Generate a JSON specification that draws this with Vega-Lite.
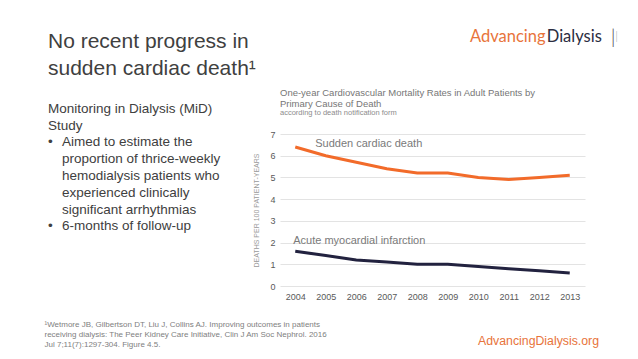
{
  "$schema": "https://vega.github.io/schema/vega-lite/v6.json",
  "autosize": {"type": "none"},
  "padding": {"left": 48, "top": 134, "right": 53, "bottom": 73},
  "params": [{"name": "width", "value": 537}, {"name": "height", "value": 152}],
  "background": "white",
  "bounds": "flush",
  "spacing": 32,
  "config": {
    "view": {"stroke": null},
    "font": "Liberation Sans",
    "axisX": {"labelAngle": 0, "ticks": false, "domain": false, "labelFontSize": 9, "labelColor": "#595959", "labelPadding": 6, "grid": false},
    "axisY": {"tickCount": 7, "titleFontSize": 7, "titleFontWeight": "normal", "titleColor": "#9a9a9a", "titlePadding": 10, "labelFontSize": 9, "labelColor": "#595959", "labelPadding": 5, "ticks": false, "domain": false, "grid": true, "gridColor": "#e3e3e3", "gridWidth": 1}
  },
  "datasets": {
    "rates": [
      {"cause": "Sudden cardiac death", "year": 2004, "rate": 6.4},
      {"cause": "Sudden cardiac death", "year": 2005, "rate": 6.0},
      {"cause": "Sudden cardiac death", "year": 2006, "rate": 5.7},
      {"cause": "Sudden cardiac death", "year": 2007, "rate": 5.4},
      {"cause": "Sudden cardiac death", "year": 2008, "rate": 5.2},
      {"cause": "Sudden cardiac death", "year": 2009, "rate": 5.2},
      {"cause": "Sudden cardiac death", "year": 2010, "rate": 5.0},
      {"cause": "Sudden cardiac death", "year": 2011, "rate": 4.9},
      {"cause": "Sudden cardiac death", "year": 2012, "rate": 5.0},
      {"cause": "Sudden cardiac death", "year": 2013, "rate": 5.1},
      {"cause": "Acute myocardial infarction", "year": 2004, "rate": 1.6},
      {"cause": "Acute myocardial infarction", "year": 2005, "rate": 1.4},
      {"cause": "Acute myocardial infarction", "year": 2006, "rate": 1.2},
      {"cause": "Acute myocardial infarction", "year": 2007, "rate": 1.1},
      {"cause": "Acute myocardial infarction", "year": 2008, "rate": 1.0},
      {"cause": "Acute myocardial infarction", "year": 2009, "rate": 1.0},
      {"cause": "Acute myocardial infarction", "year": 2010, "rate": 0.9},
      {"cause": "Acute myocardial infarction", "year": 2011, "rate": 0.8},
      {"cause": "Acute myocardial infarction", "year": 2012, "rate": 0.7},
      {"cause": "Acute myocardial infarction", "year": 2013, "rate": 0.6}
    ],
    "slide": [
      {"part": "body", "line": 1, "level": 0, "bullet": false, "text": "Monitoring in Dialysis (MiD)"},
      {"part": "body", "line": 2, "level": 0, "bullet": false, "text": "Study"},
      {"part": "body", "line": 3, "level": 1, "bullet": true, "text": "Aimed to estimate the"},
      {"part": "body", "line": 4, "level": 1, "bullet": false, "text": "proportion of thrice-weekly"},
      {"part": "body", "line": 5, "level": 1, "bullet": false, "text": "hemodialysis patients who"},
      {"part": "body", "line": 6, "level": 1, "bullet": false, "text": "experienced clinically"},
      {"part": "body", "line": 7, "level": 1, "bullet": false, "text": "significant arrhythmias"},
      {"part": "body", "line": 8, "level": 1, "bullet": true, "text": "6-months of follow-up"},
      {"part": "note", "line": 14, "level": 0, "bullet": false, "text": "¹Wetmore JB, Gilbertson DT, Liu J, Collins AJ. Improving outcomes in patients\nreceiving dialysis: The Peer Kidney Care Initiative, Clin J Am Soc Nephrol. 2016\nJul 7;11(7):1297-304.  Figure 4.5."}
    ]
  },
  "hconcat": [
    {
      "width": 200,
      "height": 152,
      "title": {
        "text": ["No recent progress in", "sudden cardiac death¹"],
        "anchor": "start",
        "frame": "group",
        "fontSize": 21,
        "fontWeight": "normal",
        "color": "#404040",
        "lineHeight": 27,
        "offset": 23
      },
      "data": {"name": "slide"},
      "encoding": {
        "x": {"field": "level", "type": "quantitative", "scale": {"domain": [0, 1], "range": [0, 14]}, "axis": null},
        "y": {"field": "line", "type": "quantitative", "scale": {"domain": [2.503, 11.54], "reverse": true, "zero": false, "nice": false}, "axis": null}
      },
      "layer": [
        {
          "transform": [{"filter": "datum.part === 'body'"}],
          "mark": {"type": "text", "align": "left", "baseline": "middle", "fontSize": 13.5, "color": "#404040"},
          "encoding": {"text": {"field": "text"}}
        },
        {
          "transform": [{"filter": "datum.bullet"}],
          "mark": {"type": "text", "align": "left", "baseline": "middle", "fontSize": 13.5, "color": "#404040"},
          "encoding": {"x": {"datum": 0}, "text": {"value": "•"}}
        },
        {
          "transform": [{"filter": "datum.part === 'note'"}],
          "mark": {"type": "text", "align": "left", "baseline": "alphabetic", "fontSize": 8, "lineHeight": 10, "lineBreak": "\n", "color": "#808080", "dx": -3.5},
          "encoding": {"text": {"field": "text"}}
        }
      ]
    },
    {
      "width": 305,
      "height": 152,
      "title": {
        "text": ["One-year Cardiovascular Mortality Rates in Adult Patients by", "Primary Cause of Death"],
        "subtitle": "according to death notification form",
        "anchor": "start",
        "frame": "group",
        "fontSize": 9.5,
        "fontWeight": "normal",
        "color": "#767676",
        "lineHeight": 10.5,
        "subtitleFontSize": 7.5,
        "subtitleColor": "#8c8c8c",
        "subtitlePadding": 1,
        "offset": -89
      },
      "layer": [
        {
          "data": {"name": "rates"},
          "mark": {"type": "line", "strokeWidth": 3},
          "encoding": {
            "x": {"field": "year", "type": "ordinal", "title": null, "scale": {"type": "point", "padding": 0.5}},
            "y": {"field": "rate", "type": "quantitative", "title": "DEATHS PER 100 PATIENT-YEARS", "scale": {"domain": [0, 7], "nice": false}},
            "color": {"field": "cause", "type": "nominal", "scale": {"domain": ["Sudden cardiac death", "Acute myocardial infarction"], "range": ["#F26B2A", "#22223F"]}, "legend": null}
          }
        },
        {
          "data": {"name": "rates"},
          "transform": [{"filter": "datum.year === 2004 && datum.cause === 'Sudden cardiac death'"}],
          "mark": {"type": "text", "align": "left", "baseline": "middle", "fontSize": 11, "color": "#7a7a7a", "dx": 20, "dy": -3},
          "encoding": {
            "x": {"field": "year", "type": "ordinal", "title": null},
            "y": {"field": "rate", "type": "quantitative", "title": "DEATHS PER 100 PATIENT-YEARS"},
            "text": {"field": "cause"}
          }
        },
        {
          "data": {"name": "rates"},
          "transform": [{"filter": "datum.year === 2004 && datum.cause === 'Acute myocardial infarction'"}],
          "mark": {"type": "text", "align": "left", "baseline": "middle", "fontSize": 11, "color": "#7a7a7a", "dx": -2, "dy": -10},
          "encoding": {
            "x": {"field": "year", "type": "ordinal", "title": null},
            "y": {"field": "rate", "type": "quantitative", "title": "DEATHS PER 100 PATIENT-YEARS"},
            "text": {"field": "cause"}
          }
        },
        {
          "data": {"values": [{"part": "Advancing"}]},
          "mark": {"type": "text", "align": "right", "baseline": "middle", "font": "Lato", "fontSize": 16.5, "color": "#E8743B", "dx": 6.3, "dy": -97.3},
          "encoding": {
            "x": {"datum": 2012, "type": "ordinal", "title": null},
            "y": {"datum": 7, "type": "quantitative", "title": "DEATHS PER 100 PATIENT-YEARS"},
            "text": {"field": "part", "type": "nominal"}
          }
        },
        {
          "data": {"values": [{"part": "Dialysis"}]},
          "mark": {"type": "text", "align": "left", "baseline": "middle", "font": "Lato", "fontSize": 16.5, "color": "#2B2D42", "dx": 7.5, "dy": -97.3},
          "encoding": {
            "x": {"datum": 2012, "type": "ordinal", "title": null},
            "y": {"datum": 7, "type": "quantitative", "title": "DEATHS PER 100 PATIENT-YEARS"},
            "text": {"field": "part", "type": "nominal"}
          }
        },
        {
          "data": {"values": [{"part": "|"}]},
          "mark": {"type": "text", "align": "center", "baseline": "middle", "font": "Lato", "fontWeight": 300, "fontSize": 20, "color": "#4a4a4a", "dx": 43.5, "dy": -96.5},
          "encoding": {
            "x": {"datum": 2013, "type": "ordinal", "title": null},
            "y": {"datum": 7, "type": "quantitative", "title": "DEATHS PER 100 PATIENT-YEARS"},
            "text": {"field": "part", "type": "nominal"}
          }
        },
        {
          "data": {"values": [{"part": "|"}]},
          "mark": {"type": "text", "align": "center", "baseline": "middle", "font": "Lato", "fontWeight": 300, "fontSize": 11, "color": "#9a9a9a", "dx": 46.8, "dy": -97.3},
          "encoding": {
            "x": {"datum": 2013, "type": "ordinal", "title": null},
            "y": {"datum": 7, "type": "quantitative", "title": "DEATHS PER 100 PATIENT-YEARS"},
            "text": {"field": "part", "type": "nominal"}
          }
        },
        {
          "data": {"values": [{"part": "AdvancingDialysis.org"}]},
          "mark": {"type": "text", "align": "right", "baseline": "middle", "fontSize": 12.3, "color": "#E8743B", "dx": 29.3, "dy": 54.7},
          "encoding": {
            "x": {"datum": 2013, "type": "ordinal", "title": null},
            "y": {"datum": 0, "type": "quantitative", "title": "DEATHS PER 100 PATIENT-YEARS"},
            "text": {"field": "part", "type": "nominal"}
          }
        }
      ]
    }
  ]
}
